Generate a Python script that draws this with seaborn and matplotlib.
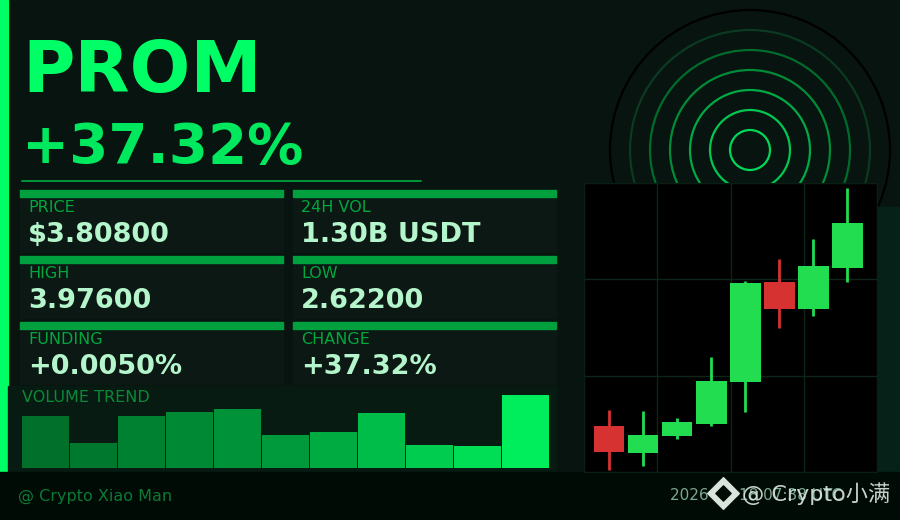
import matplotlib
matplotlib.use("Agg")
import matplotlib.pyplot as plt
from matplotlib.patches import Rectangle, Circle
import numpy as np
import pandas as pd
import seaborn as sns

# ticker header
symbol = "PROM"
change_txt = "+37.32%"

# stat cards
card_labels = ["PRICE", "24H VOL", "HIGH", "LOW", "FUNDING", "CHANGE"]
card_values = ["$3.80800", "1.30B USDT", "3.97600", "2.62200", "+0.0050%", "+37.32%"]

# volume trend (relative heights)
volume = [52, 25, 52, 56, 59, 33, 36, 55, 23, 22, 73]

# candles
c_open = [2.834, 2.704, 2.786, 2.843, 3.045, 3.525, 3.395, 3.592]
c_close = [2.709, 2.790, 2.853, 3.050, 3.520, 3.395, 3.602, 3.808]
c_high = [2.910, 2.906, 2.872, 3.165, 3.530, 3.635, 3.731, 3.976]
c_low = [2.622, 2.642, 2.771, 2.834, 2.901, 3.304, 3.362, 3.525]

footer_left = "@ Crypto Xiao Man"
timestamp = "2026-03-18 07:38 UTC"
watermark = "@ Crypto小满"

BG = "#08140f"
CARD = "#0b1813"
ACCENT = "#00ff66"
LABEL = "#00a83e"
VALUE = "#b4f5cc"
UP = "#22dd50"
DOWN = "#d63232"

sns.set_style("dark")
plt.rcParams["font.family"] = ["DejaVu Sans", "Noto Sans CJK SC"]

fig = plt.figure(figsize=(9, 5.2), dpi=100, facecolor=BG)
bg = fig.add_axes([0, 0, 1, 1])
bg.set_xlim(0, 900)
bg.set_ylim(520, 0)
bg.axis("off")
bg.set_facecolor(BG)
bg.add_patch(Rectangle((0, 0), 900, 520, color=BG, zorder=0))


def px_axes(x0, y0, x1, y1):
    return fig.add_axes([x0 / 900, 1 - y1 / 520, (x1 - x0) / 900, (y1 - y0) / 520])


# radar rings behind the chart
ring_cols = ["#00d85a", "#00c850", "#00aa44", "#008c38", "#006c2c", "#0b3a22", "#000000"]
for i, col in enumerate(ring_cols):
    bg.add_patch(Circle((750, 150), 20 * (i + 1), fill=False, ec=col, lw=1.6, zorder=1))

# left accent
bg.add_patch(Rectangle((0, 0), 8, 472, color=ACCENT, zorder=2))

# header
bg.text(22, 92, symbol, color=ACCENT, fontsize=51.5, fontweight="bold", va="baseline", zorder=3)
bg.text(22, 163, change_txt, color="#00e85e", fontsize=40.5, fontweight="bold", va="baseline", zorder=3)
bg.plot([22, 421], [181, 181], color="#00a040", lw=1.3, zorder=3)

# cards
for k, (lab, val) in enumerate(zip(card_labels, card_values)):
    col, row = k % 2, k // 2
    x0 = 20 + col * 273
    y0 = 190 + row * 66
    bg.add_patch(Rectangle((x0, y0), 263, 62, color=CARD, zorder=2))
    bg.add_patch(Rectangle((x0, y0), 263, 7, color="#00a03e", zorder=3))
    bg.text(x0 + 8, y0 + 18, lab, color=LABEL, fontsize=11.5, va="center", zorder=4)
    bg.text(x0 + 8, y0 + 45, val, color=VALUE, fontsize=19.5, fontweight="bold", va="center", zorder=4)

# volume trend panel
bg.add_patch(Rectangle((8, 386), 548, 86, color="#071b12", zorder=2))
bg.text(22, 398, "VOLUME TREND", color="#0a8a38", fontsize=11.5, va="center", zorder=4)

vax = px_axes(22, 395, 549, 468)
vdf = pd.DataFrame({"idx": range(len(volume)), "vol": volume})
pal = sns.blend_palette(["#00702a", "#009a3c", "#00ee5c"], n_colors=len(volume))
sns.barplot(data=vdf, x="idx", y="vol", hue="idx", palette=pal, legend=False,
            width=0.98, saturation=1, linewidth=0, edgecolor="none", ax=vax)
vax.set_ylim(0, max(volume))
vax.set_xlim(-0.5, len(volume) - 0.5)
vax.axis("off")

# candlestick chart
bg.add_patch(Rectangle((877, 207), 23, 265, color="#062218", zorder=2))
cax = px_axes(584, 183, 877, 472)
cax.set_facecolor("#000000")
xs = np.arange(len(c_open))
cols = [UP if c >= o else DOWN for o, c in zip(c_open, c_close)]
cax.vlines(xs, c_low, c_high, colors=cols, lw=2, zorder=2)
cax.bar(xs, np.abs(np.array(c_close) - np.array(c_open)),
        bottom=np.minimum(c_open, c_close), width=0.91, color=cols,
        linewidth=0, edgecolor="none", zorder=3)
xl = (-0.735, 7.88)
yl = (2.612, 4.0)
cax.set_xlim(*xl)
cax.set_ylim(*yl)
cax.set_xticks(np.linspace(*xl, 5))
cax.set_yticks(np.linspace(*yl, 4))
cax.tick_params(length=0, labelbottom=False, labelleft=False)
cax.grid(True, color="#0d2619", lw=1)
for s in cax.spines.values():
    s.set_color("#0a1f14")

# footer
bg.add_patch(Rectangle((0, 472), 900, 48, color="#010b06", zorder=5))
bg.text(18, 496, footer_left, color="#0b7a35", fontsize=11.5, va="center", zorder=6)
bg.text(670, 496, timestamp, color="#7aa890", fontsize=11, va="center", zorder=6)
bg.scatter([723], [493], marker="D", s=260, color="#d8e4dc", zorder=7)
bg.scatter([723], [493], marker="D", s=60, color="#010b06", zorder=8)
bg.text(742, 494, watermark, color="#dde8e2", fontsize=16, va="center", alpha=0.9,
        family=["DejaVu Sans", "Noto Sans CJK SC"], zorder=8)

fig.savefig("out.png", dpi=100, facecolor=BG)
